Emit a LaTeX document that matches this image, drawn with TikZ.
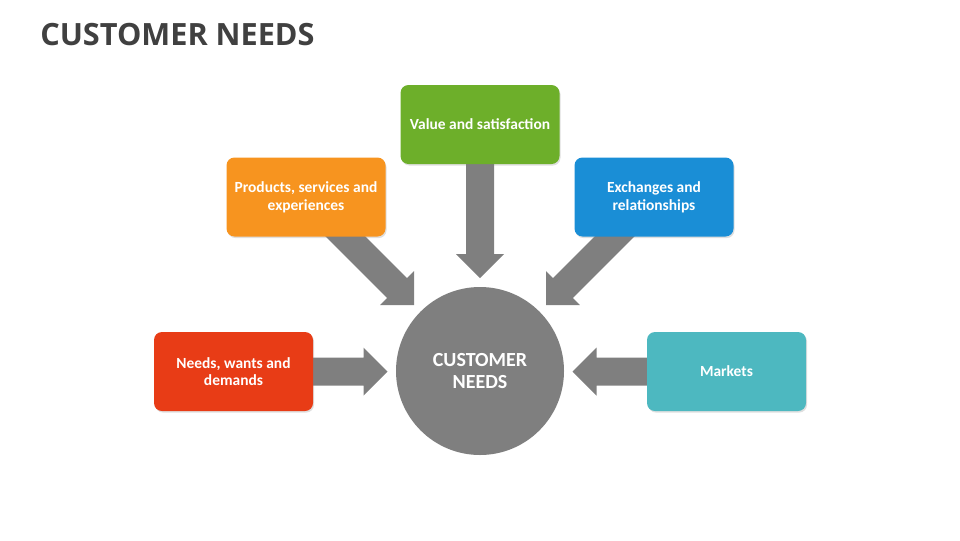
\documentclass[tikz,border=0pt]{standalone}
\usepackage{fontspec}
\setmainfont{Carlito}
\newfontfamily\titlefont{Open Sans}
\usetikzlibrary{calc,shadows}
\definecolor{titlegray}{HTML}{404040}
\definecolor{arrowgray}{HTML}{7F7F7F}
\definecolor{boxorange}{HTML}{F7941F}
\definecolor{boxgreen}{HTML}{6DAF2A}
\definecolor{boxblue}{HTML}{1A8ED6}
\definecolor{boxred}{HTML}{E83C16}
\definecolor{boxteal}{HTML}{4DB8C0}
\newcommand\blockarrow[2]{%
  \fill[arrowgray]
    ($(#1)!10.5pt!90:(#2)$) --
    ($($(#2)!18pt!(#1)$)!10.5pt!90:(#2)$) --
    ($($(#2)!18pt!(#1)$)!18pt!90:(#2)$) --
    (#2) --
    ($($(#2)!18pt!(#1)$)!18pt!-90:(#2)$) --
    ($($(#2)!18pt!(#1)$)!10.5pt!-90:(#2)$) --
    ($(#1)!10.5pt!-90:(#2)$) -- cycle;}
\tikzset{
  box/.style={rectangle, rounded corners=6pt, minimum width=119.25pt, minimum height=59.25pt,
    align=center, text=white, font=\fontsize{11.6pt}{13.2pt}\selectfont\bfseries, inner sep=0pt,
    drop shadow={shadow xshift=0.8pt, shadow yshift=-1.2pt, opacity=0.25}},
  hub/.style={circle, fill=arrowgray, minimum size=126pt, inner sep=0pt, align=center,
    text=white, font=\fontsize{15pt}{16.5pt}\selectfont\bfseries},
}
\begin{document}
\begin{tikzpicture}[x=0.75pt,y=-0.75pt]
\useasboundingbox (0,0) rectangle (960,540);
\node[anchor=base west, inner sep=0pt, text=titlegray, font=\titlefont\fontsize{23pt}{28pt}\selectfont\bfseries] (title) at (40,45) {CUSTOMER NEEDS};
% anchor coordinates
\coordinate (cg) at (480,124.5);
\coordinate (co) at (306,197);
\coordinate (cb) at (654,197);
\coordinate (cr) at (233.5,371.5);
\coordinate (cm) at (726.5,371.5);
\coordinate (tg) at (480,278);
\coordinate (to) at (414,305);
\coordinate (tb) at (546,305);
\coordinate (tr) at (387.5,371.5);
\coordinate (tm) at (572.5,371.5);
% arrows
\blockarrow{cg}{tg}
\blockarrow{co}{to}
\blockarrow{cb}{tb}
\blockarrow{cr}{tr}
\blockarrow{cm}{tm}
% hub
\node[hub] (hub) at (480,371) {CUSTOMER\\NEEDS};
% boxes
\node[box, fill=boxgreen] (value) at (cg) {Value and satisfaction};
\node[box, fill=boxorange] (prod) at (co) {Products, services and\\experiences};
\node[box, fill=boxblue] (exch) at (cb) {Exchanges and\\relationships};
\node[box, fill=boxred] (needs) at (cr) {Needs, wants and\\demands};
\node[box, fill=boxteal] (mark) at (cm) {Markets};
\end{tikzpicture}
\end{document}
